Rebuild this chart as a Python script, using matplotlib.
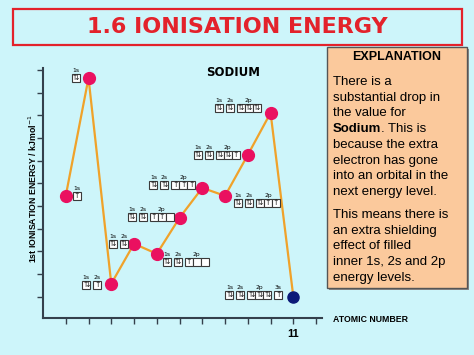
import matplotlib
matplotlib.use('Agg')
import matplotlib.pyplot as plt
from matplotlib import transforms
from matplotlib.patches import Rectangle
from matplotlib.text import Annotation

# --- data ---
elements = ['H', 'He', 'Li', 'Be', 'B', 'C', 'N', 'O', 'F', 'Ne', 'Na']
atomic_number = [1, 2, 3, 4, 5, 6, 7, 8, 9, 10, 11]
ie_values = [1362, 2662, 393, 834, 723, 1120, 1450, 1362, 1814, 2277, 250]

# electrons per orbital box
configs = [
    [('1s', [1])],
    [('1s', [2])],
    [('1s', [2]), ('2s', [1])],
    [('1s', [2]), ('2s', [2])],
    [('1s', [2]), ('2s', [2]), ('2p', [1, 0, 0])],
    [('1s', [2]), ('2s', [2]), ('2p', [1, 1, 0])],
    [('1s', [2]), ('2s', [2]), ('2p', [1, 1, 1])],
    [('1s', [2]), ('2s', [2]), ('2p', [2, 1, 1])],
    [('1s', [2]), ('2s', [2]), ('2p', [2, 2, 1])],
    [('1s', [2]), ('2s', [2]), ('2p', [2, 2, 2])],
    [('1s', [2]), ('2s', [2]), ('2p', [2, 2, 2]), ('3s', [1])],
]
# where the box row sits relative to its point (pixels, y down)
box_offsets = [(7, 0), (-17, 0), (-29, 1), (-25, 0), (6, 8), (-52, -1),
               (-53, -3), (9, 7), (-54, 0), (-56, -5), (-68, -2)]

title = '1.6 IONISATION ENERGY'
expl_head = 'EXPLANATION'
para1 = ['There is a', 'substantial drop in', 'the value for', None,
         'because the extra', 'electron has gone', 'into an orbital in the',
         'next energy level.']
para2 = ['This means there is', 'an extra shielding', 'effect of filled',
         'inner 1s, 2s and 2p', 'energy levels.']

W, H = 474, 355
bg = '#cdf5fa'
red = '#e3222b'
axcol = '#34404c'

fig = plt.figure(figsize=(W / 100, H / 100), dpi=100, facecolor=bg)


def fx(px):
    return px / W


def fy(py):
    return 1 - py / H


ax = fig.add_axes([fx(43), fy(318), fx(279), 250 / H])
ax.set_facecolor('none')
ax.set_xlim(0, 12.26)
ax.set_ylim(15, 2772)

# title box
fig.patches.append(Rectangle((fx(13), fy(45)), fx(449), 36 / H, transform=fig.transFigure,
                             fill=False, edgecolor=red, lw=1.6))
fig.text(fx(237), fy(27), title, color=red, fontsize=16, fontweight='bold',
         ha='center', va='center')

# explanation box with shadow
fig.patches.append(Rectangle((fx(329), fy(290)), fx(140), 241 / H, transform=fig.transFigure,
                             facecolor='#8a8a8a', edgecolor='none'))
fig.patches.append(Rectangle((fx(327), fy(288)), fx(140), 241 / H, transform=fig.transFigure,
                             facecolor='#fbc99c', edgecolor='#555555', lw=1))
fig.text(fx(397), fy(57), expl_head, fontsize=9, fontweight='bold', ha='center', va='center',
         family='Liberation Sans')
tfont = dict(fontsize=9.5, family='Liberation Sans', va='center', ha='left')
for i, line in enumerate(para1):
    y = 82 + 15.7 * i
    if line is None:
        t = fig.text(fx(333), fy(y), 'Sodium', fontweight='bold', **tfont)
        fig.add_artist(Annotation('. This is', xy=(1, 0.5), xycoords=t, fontsize=9.5,
                                  family='Liberation Sans', va='center', ha='left'))
    else:
        fig.text(fx(333), fy(y), line, **tfont)
for i, line in enumerate(para2):
    fig.text(fx(333), fy(215 + 15.7 * i), line, **tfont)

ax.plot(atomic_number, ie_values, color='#f0a22a', lw=1.6, zorder=2)
ax.plot(atomic_number[:-1], ie_values[:-1], 'o', color='#ea1060', ms=8.5, zorder=3)
ax.plot(atomic_number[-1:], ie_values[-1:], 'o', color='#0c1a78', ms=8, zorder=3)

for s in ['top', 'right']:
    ax.spines[s].set_visible(False)
for s in ['left', 'bottom']:
    ax.spines[s].set_color(axcol)
    ax.spines[s].set_linewidth(1.5)
ax.set_yticks(range(250, 2751, 250))
ax.set_yticklabels([])
ax.set_xticks(range(1, 13))
ax.set_xticklabels(['11' if n == 11 else '' for n in range(1, 13)],
                   fontsize=8, fontweight='bold', family='Liberation Sans')
ax.tick_params(direction='out', length=4, width=1, color=axcol, pad=4)

fig.text(fx(33), fy(189), '1st IONISATION ENERGY / kJmol$^{-1}$', rotation=90,
         fontsize=6.3, fontweight='bold', ha='center', va='center', family='Liberation Sans')
fig.text(fx(333), fy(319), 'ATOMIC NUMBER', fontsize=6.3, fontweight='bold',
         ha='left', va='center', family='Liberation Sans')
fig.text(fx(233), fy(72), 'SODIUM', fontsize=8.5, fontweight='bold', ha='center', va='center')


def draw_config(x, y, groups, dx, dy):
    tr = transforms.Affine2D().translate(dx, -dy) + transforms.ScaledTranslation(x, y, ax.transData)
    left = 0
    for name, boxes in groups:
        gw = 8 * len(boxes)
        ax.text(left + gw / 2, 5, name, transform=tr, fontsize=4.3, ha='center',
                va='bottom', clip_on=False)
        for k, n in enumerate(boxes):
            ax.add_patch(Rectangle((left + 8 * k, -4), 8, 8, transform=tr, facecolor='white',
                                   edgecolor='#3a3a3a', lw=0.8, clip_on=False, zorder=4))
            if n:
                ax.text(left + 8 * k + 4, 0, '⇅' if n == 2 else '↑', transform=tr,
                        fontsize=5.5, ha='center', va='center', clip_on=False, zorder=5,
                        color='#222222')
        left += gw + 3


for i in range(len(elements)):
    draw_config(atomic_number[i], ie_values[i], configs[i], *box_offsets[i])

fig.savefig('out.png', dpi=100, facecolor=bg)
